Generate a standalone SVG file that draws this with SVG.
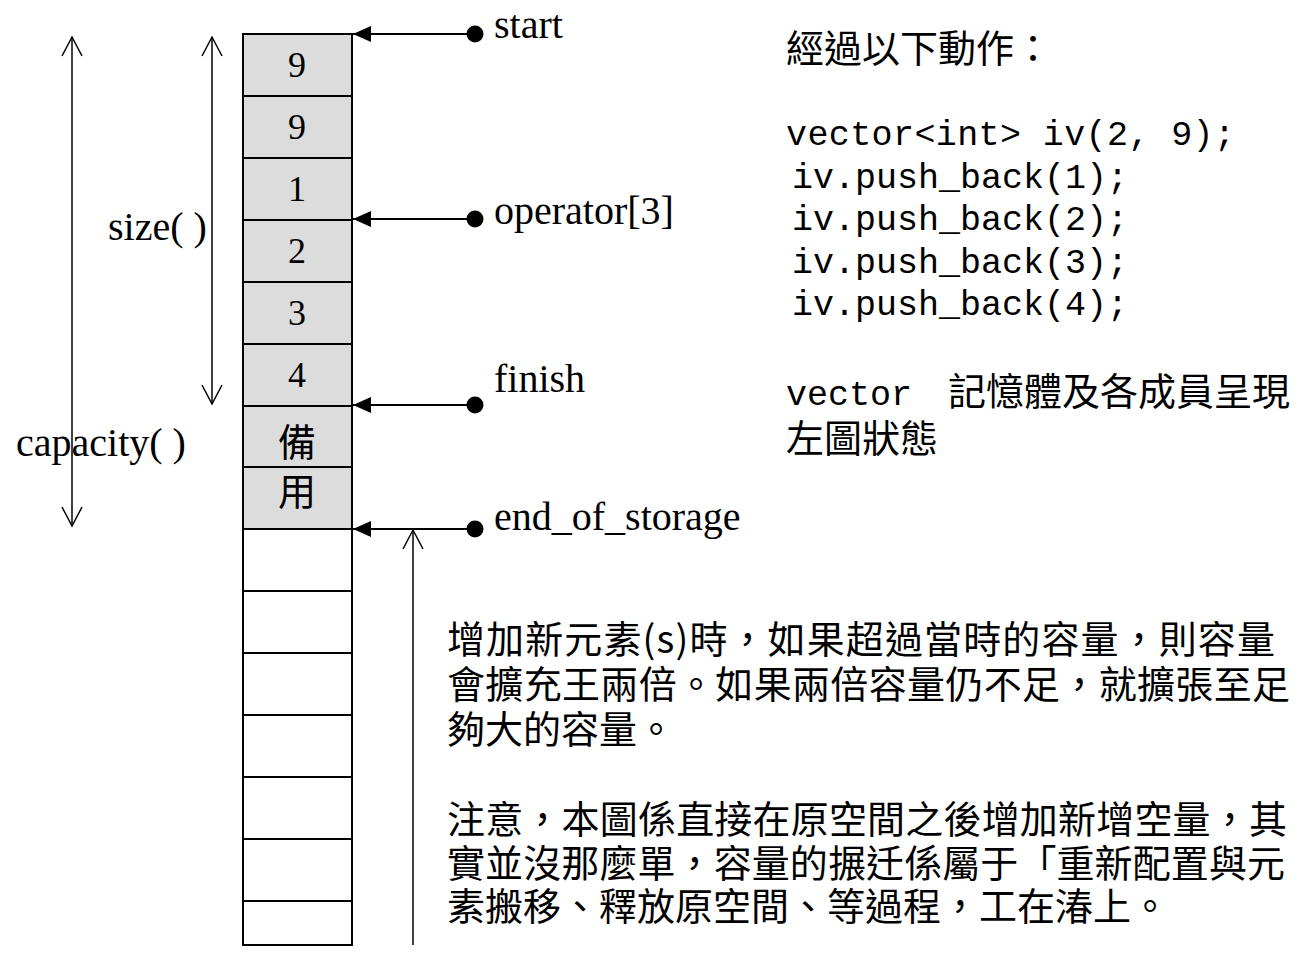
<svg xmlns="http://www.w3.org/2000/svg" width="1299" height="956" viewBox="0 0 1299 956">
<style>
.cell{stroke:#000;stroke-width:2}
.used{fill:#dcdcdc}
.free{fill:#fff}
.num{font-family:"Liberation Serif",serif;font-size:36px;text-anchor:middle;fill:#000}
.lbl{font-family:"Liberation Serif",serif;font-size:40px;fill:#000}
.cjk{font-family:"Noto Sans CJK TC","Noto Sans CJK SC",sans-serif;font-size:38px;fill:#000}
.code{font-family:"Liberation Mono","DejaVu Sans Mono",monospace;font-size:35px;fill:#000}
.ln{stroke:#000;stroke-width:2;fill:none}
.thin{stroke:#000;stroke-width:1.5;fill:none}
</style>
<defs>
<marker id="tri" viewBox="0 0 18 16" refX="18" refY="8" markerWidth="18" markerHeight="16" markerUnits="userSpaceOnUse" orient="auto">
<path d="M0,0 L18,8 L0,16 Z" fill="#000"/>
</marker>
<marker id="dot" viewBox="0 0 18 18" refX="9" refY="9" markerWidth="18" markerHeight="18" markerUnits="userSpaceOnUse">
<circle cx="9" cy="9" r="8.5" fill="#000"/>
</marker>
<marker id="vee" viewBox="0 0 22 22" refX="20" refY="11" markerWidth="22" markerHeight="22" markerUnits="userSpaceOnUse" orient="auto-start-reverse">
<path d="M1,1 L20,11 L1,21" fill="none" stroke="#000" stroke-width="1.5"/>
</marker>
</defs>
<rect width="1299" height="956" fill="#fff"/>

<g id="vector-memory">
<rect class="cell used" x="243" y="34" width="109" height="62"/>
<rect class="cell used" x="243" y="96" width="109" height="62"/>
<rect class="cell used" x="243" y="158" width="109" height="62"/>
<rect class="cell used" x="243" y="220" width="109" height="62"/>
<rect class="cell used" x="243" y="282" width="109" height="62"/>
<rect class="cell used" x="243" y="344" width="109" height="62"/>
<rect class="cell used" x="243" y="406" width="109" height="61"/>
<rect class="cell used" x="243" y="467" width="109" height="62"/>
<rect class="cell free" x="243" y="529" width="109" height="62"/>
<rect class="cell free" x="243" y="591" width="109" height="62"/>
<rect class="cell free" x="243" y="653" width="109" height="62"/>
<rect class="cell free" x="243" y="715" width="109" height="62"/>
<rect class="cell free" x="243" y="777" width="109" height="62"/>
<rect class="cell free" x="243" y="839" width="109" height="62"/>
<rect class="cell free" x="243" y="901" width="109" height="44"/>
<text class="num" x="297" y="77">9</text>
<text class="num" x="297" y="139">9</text>
<text class="num" x="297" y="201">1</text>
<text class="num" x="297" y="263">2</text>
<text class="num" x="297" y="325">3</text>
<text class="num" x="297" y="387">4</text>
<text class="cjk" x="297" y="456" text-anchor="middle" font-size="40">備</text>
<text class="cjk" x="297" y="505" text-anchor="middle" font-size="40">用</text>
</g>

<g id="connectors">
<line class="ln" x1="475" y1="34" x2="353" y2="34" marker-start="url(#dot)" marker-end="url(#tri)"/>
<line class="ln" x1="475" y1="219" x2="353" y2="219" marker-start="url(#dot)" marker-end="url(#tri)"/>
<line class="ln" x1="475" y1="405" x2="353" y2="405" marker-start="url(#dot)" marker-end="url(#tri)"/>
<line class="ln" x1="475" y1="529" x2="353" y2="529" marker-start="url(#dot)" marker-end="url(#tri)"/>
<line class="thin" x1="413" y1="945" x2="413" y2="530" marker-end="url(#vee)"/>
<line class="thin" x1="72" y1="37" x2="72" y2="526" marker-start="url(#vee)" marker-end="url(#vee)"/>
<line class="thin" x1="212" y1="37" x2="212" y2="404" marker-start="url(#vee)" marker-end="url(#vee)"/>
</g>

<g id="pointer-labels">
<text class="lbl" x="494" y="38">start</text>
<text class="lbl" x="494" y="224">operator[3]</text>
<text class="lbl" x="494" y="392">finish</text>
<text class="lbl" x="494" y="530">end_of_storage</text>
<text class="lbl" x="108" y="240">size( )</text>
<text class="lbl" x="16" y="456">capacity( )</text>
</g>

<g id="description">
<text class="cjk" x="786" y="62">經過以下動作：</text>
<text class="code" x="786" y="145" textLength="449" lengthAdjust="spacing">vector&lt;int&gt; iv(2,  9);</text>
<text class="code" x="792" y="188">iv.push_back(1);</text>
<text class="code" x="792" y="230">iv.push_back(2);</text>
<text class="code" x="792" y="273">iv.push_back(3);</text>
<text class="code" x="792" y="315">iv.push_back(4);</text>
<text class="code" x="786" y="405">vector</text>
<text class="cjk" x="948" y="405">記憶體及各成員呈現</text>
<text class="cjk" x="786" y="452">左圖狀態</text>
</g>

<g id="notes">
<text class="cjk" x="447" y="653" textLength="828" lengthAdjust="spacing">增加新元素(s)時，如果超過當時的容量，則容量</text>
<text class="cjk" x="447" y="698" textLength="843" lengthAdjust="spacing">會擴充王兩倍。如果兩倍容量仍不足，就擴張至足</text>
<text class="cjk" x="447" y="743">夠大的容量。</text>
<text class="cjk" x="447" y="833" textLength="840" lengthAdjust="spacing">注意，本圖係直接在原空間之後增加新增空量，其</text>
<text class="cjk" x="447" y="877" textLength="838" lengthAdjust="spacing">實並沒那麼單，容量的搌迁係屬于「重新配置與元</text>
<text class="cjk" x="447" y="920">素搬移、釋放原空間、等過程，工在湷上。</text>
</g>
</svg>
